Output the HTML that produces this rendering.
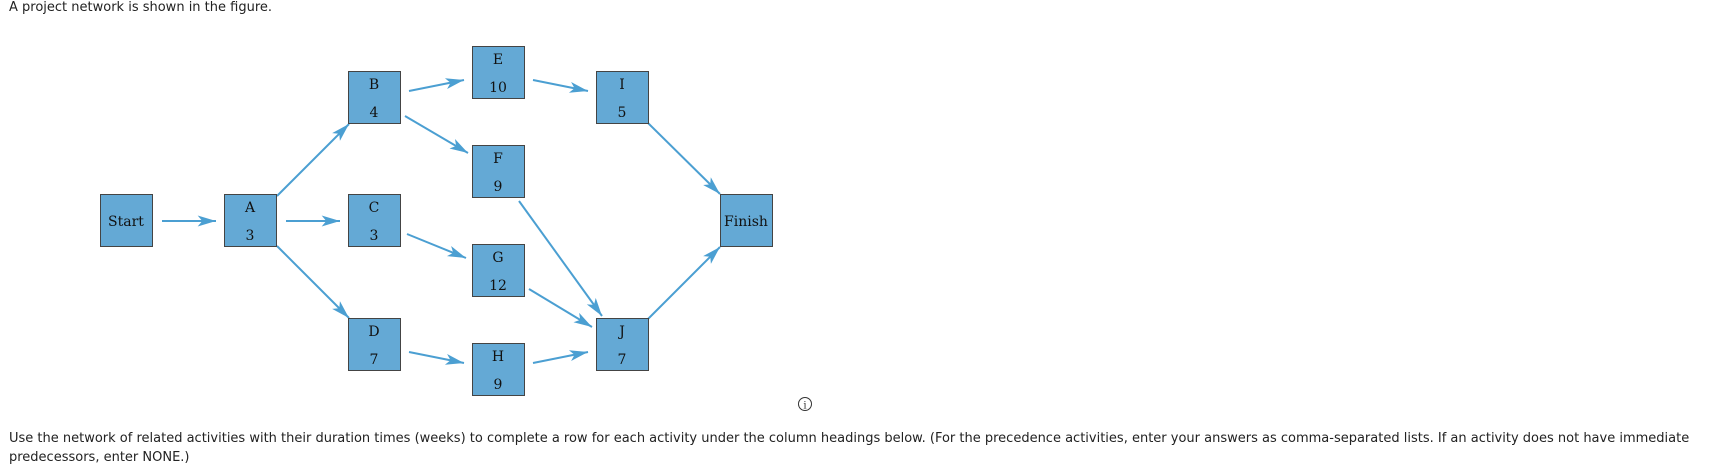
<!DOCTYPE html>
<html><head><meta charset="utf-8"><style>
body{margin:0;width:1735px;height:467px;background:#fff;position:relative;overflow:hidden;font-family:"DejaVu Sans","Liberation Sans",sans-serif;font-size:13px;color:#222}
.t{position:absolute;left:9px;white-space:nowrap}
</style></head><body>
<div class="t" style="top:0px">A project network is shown in the figure.</div>
<svg width="1735" height="467" style="position:absolute;left:0;top:0">
<defs>
<marker id="b" viewBox="0 0 20 12" markerWidth="19" markerHeight="11" refX="20" refY="6" orient="auto" markerUnits="userSpaceOnUse"><path d="M0,0 L20,6 L0,12 L5,6 Z" fill="#4b9fd2"/></marker></defs>
<g stroke="#4b9fd2" stroke-width="2" marker-end="url(#b)">
<line x1="162" y1="221" x2="216" y2="221"/>
<line x1="286" y1="221" x2="340" y2="221"/>
<line x1="277" y1="196" x2="349" y2="124"/>
<line x1="277" y1="246" x2="349" y2="318"/>
<line x1="409" y1="91" x2="464" y2="80"/>
<line x1="533" y1="80" x2="588" y2="91"/>
<line x1="405" y1="116" x2="468" y2="153"/>
<line x1="407" y1="234" x2="466" y2="258"/>
<line x1="519" y1="201" x2="602" y2="316"/>
<line x1="529" y1="289" x2="592" y2="327"/>
<line x1="409" y1="352" x2="464" y2="363"/>
<line x1="533" y1="363" x2="588" y2="352"/>
<line x1="648" y1="123" x2="720" y2="194"/>
<line x1="648" y1="319" x2="720" y2="247"/>
</g>
<g fill="#64a9d5" stroke="#444" stroke-width="1">
<rect x="100.5" y="194.5" width="52" height="52"/>
<rect x="224.5" y="194.5" width="52" height="52"/>
<rect x="348.5" y="71.5" width="52" height="52"/>
<rect x="348.5" y="194.5" width="52" height="52"/>
<rect x="348.5" y="318.5" width="52" height="52"/>
<rect x="472.5" y="46.5" width="52" height="52"/>
<rect x="472.5" y="145.5" width="52" height="52"/>
<rect x="472.5" y="244.5" width="52" height="52"/>
<rect x="472.5" y="343.5" width="52" height="52"/>
<rect x="596.5" y="71.5" width="52" height="52"/>
<rect x="596.5" y="318.5" width="52" height="52"/>
<rect x="720.5" y="194.5" width="52" height="52"/>
</g>
<g font-family="'DejaVu Serif','Liberation Serif',serif" font-size="14" fill="#111" text-anchor="middle">
<text x="126" y="226">Start</text>
<text x="250" y="212">A</text><text x="250" y="240">3</text>
<text x="374" y="89">B</text><text x="374" y="117">4</text>
<text x="374" y="212">C</text><text x="374" y="240">3</text>
<text x="374" y="336">D</text><text x="374" y="364">7</text>
<text x="498" y="64">E</text><text x="498" y="92">10</text>
<text x="498" y="163">F</text><text x="498" y="191">9</text>
<text x="498" y="262">G</text><text x="498" y="290">12</text>
<text x="498" y="361">H</text><text x="498" y="389">9</text>
<text x="622" y="89">I</text><text x="622" y="117">5</text>
<text x="622" y="336">J</text><text x="622" y="364">7</text>
<text x="746" y="226">Finish</text>
</g>
<circle cx="805" cy="404" r="6.5" fill="none" stroke="#333" stroke-width="1"/>
<text x="805" y="408.5" font-family="'DejaVu Serif',serif" font-size="10" text-anchor="middle" fill="#333">i</text>
</svg>
<div class="t" style="top:431px">Use the network of related activities with their duration times (weeks) to complete a row for each activity under the column headings below. (For the precedence activities, enter your answers as comma-separated lists. If an activity does not have immediate</div>
<div class="t" style="top:450px">predecessors, enter NONE.)</div>
</body></html>
